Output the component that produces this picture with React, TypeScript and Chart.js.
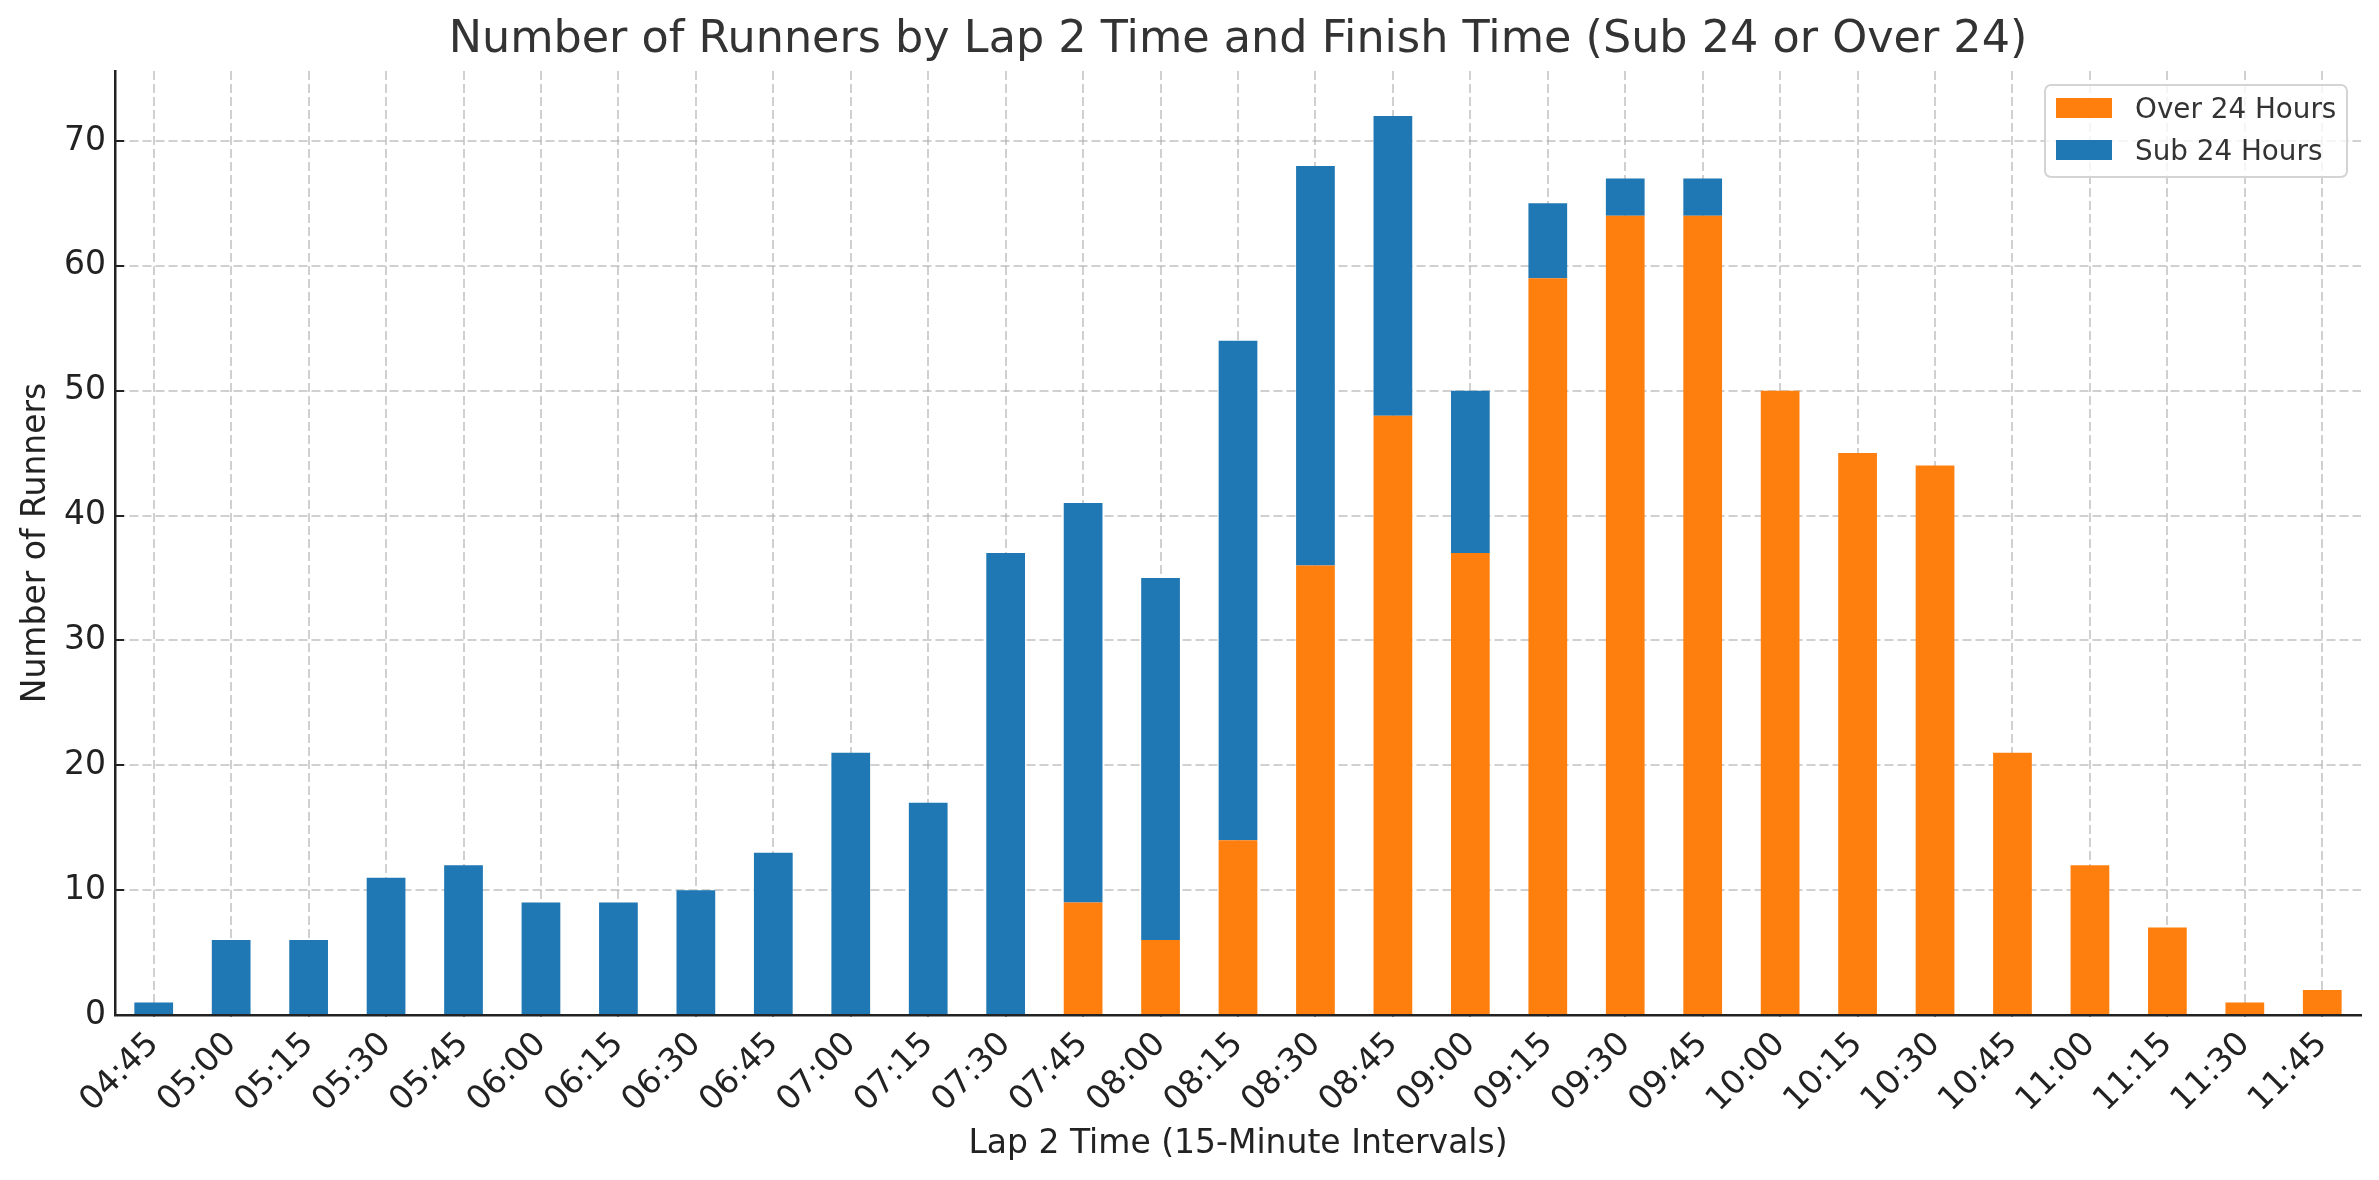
import React, { useEffect, useRef } from "react";
import { Chart, registerables } from "chart.js";

Chart.register(...registerables);

const lapTimes = [
  "04:45", "05:00", "05:15", "05:30", "05:45", "06:00", "06:15", "06:30", "06:45",
  "07:00", "07:15", "07:30", "07:45", "08:00", "08:15", "08:30", "08:45", "09:00",
  "09:15", "09:30", "09:45", "10:00", "10:15", "10:30", "10:45", "11:00", "11:15",
  "11:30", "11:45",
];

const over24Hours = [
  0, 0, 0, 0, 0, 0, 0, 0, 0, 0, 0, 0,
  9, 6, 14, 36, 48, 37, 59, 64, 64,
  50, 45, 44, 21, 12, 7, 1, 2,
];

const sub24Hours = [
  1, 6, 6, 11, 12, 9, 9, 10, 13, 21, 17, 37,
  32, 29, 40, 32, 24, 13, 6, 3, 3,
  0, 0, 0, 0, 0, 0, 0, 0,
];

const seriesLabels = ["Over 24 Hours", "Sub 24 Hours"];
const seriesColors = ["#ff7f0e", "#1f77b4"];
const chartTitle = "Number of Runners by Lap 2 Time and Finish Time (Sub 24 or Over 24)";
const xTitle = "Lap 2 Time (15-Minute Intervals)";
const yTitle = "Number of Runners";
const yTickStep = 10;
const yMax = 75.6;

const FONT = "'DejaVu Sans', 'Liberation Sans', sans-serif";
const GRID = "rgba(176,176,176,0.6)";

const titlePlugin = {
  id: "axesTitle",
  afterDraw(chart: any) {
    const { ctx, chartArea } = chart;
    ctx.save();
    ctx.fillStyle = "#333";
    ctx.font = `44.5px ${FONT}`;
    ctx.textAlign = "center";
    ctx.textBaseline = "middle";
    ctx.fillText(chartTitle, (chartArea.left + chartArea.right) / 2, 40);
    ctx.restore();
  },
};

const legendPlugin = {
  id: "boxLegend",
  afterDraw(chart: any) {
    const { ctx, chartArea } = chart;
    const w = 302;
    const h = 92;
    const x = chartArea.right - 14 - w;
    const y = chartArea.top + 14;
    ctx.save();
    ctx.beginPath();
    ctx.roundRect(x, y, w, h, 6);
    ctx.fillStyle = "rgba(255,255,255,0.8)";
    ctx.fill();
    ctx.strokeStyle = "#d4d4d4";
    ctx.lineWidth = 2;
    ctx.stroke();
    chart.data.datasets.forEach((ds: any, i: number) => {
      const ry = y + 23 + i * 42;
      ctx.fillStyle = ds.backgroundColor;
      ctx.fillRect(x + 11, ry - 10, 56, 20);
      ctx.fillStyle = "#333";
      ctx.font = `27.8px ${FONT}`;
      ctx.textBaseline = "middle";
      ctx.textAlign = "left";
      ctx.fillText(ds.label, x + 90, ry + 3);
    });
    ctx.restore();
  },
};

export default function App() {
  const canvasRef = useRef<HTMLCanvasElement | null>(null);

  useEffect(() => {
    document.body.style.margin = "0";
    const canvas = canvasRef.current;
    if (!canvas) return;
    const chart = new Chart(canvas, {
      type: "bar",
      data: {
        labels: lapTimes,
        datasets: [
          {
            label: seriesLabels[0],
            data: over24Hours,
            backgroundColor: seriesColors[0],
            borderWidth: 0,
            barPercentage: 1,
            categoryPercentage: 0.5,
          },
          {
            label: seriesLabels[1],
            data: sub24Hours,
            backgroundColor: seriesColors[1],
            borderWidth: 0,
            barPercentage: 1,
            categoryPercentage: 0.5,
          },
        ],
      },
      options: {
        animation: false,
        responsive: false,
        maintainAspectRatio: false,
        layout: { padding: { top: 71, right: 18, bottom: 0, left: 0 } },
        plugins: {
          legend: { display: false },
          tooltip: { enabled: false },
          title: { display: false },
        },
        scales: {
          x: {
            stacked: true,
            offset: true,
            z: 1,
            afterFit: (scale: any) => {
              scale.height = 165;
            },
            grid: {
              display: true,
              offset: false,
              color: GRID,
              lineWidth: 2,
              drawTicks: true,
              tickLength: -9,
              tickColor: "#222",
              tickWidth: 2,
            },
            border: { display: true, color: "#222", width: 2.5, dash: [9, 4] },
            ticks: {
              color: "#222",
              font: { family: FONT, size: 33 },
              maxRotation: 45,
              minRotation: 45,
              autoSkip: false,
              padding: 19,
            },
            title: {
              display: true,
              text: xTitle,
              color: "#222",
              font: { family: FONT, size: 33 },
              padding: { top: 0, bottom: 16 },
            },
          },
          y: {
            stacked: true,
            min: 0,
            max: yMax,
            z: 1,
            afterFit: (scale: any) => {
              scale.width = 115;
            },
            grid: {
              display: true,
              color: (c: any) => (c.tick && c.tick.value === 0 ? "rgba(0,0,0,0)" : GRID),
              lineWidth: 2,
              drawTicks: true,
              tickLength: -9,
              tickColor: "#222",
              tickWidth: 2,
            },
            border: { display: true, color: "#222", width: 2.5, dash: [9, 4] },
            ticks: {
              stepSize: yTickStep,
              includeBounds: false,
              color: "#222",
              font: { family: FONT, size: 33 },
              padding: 18,
            },
            title: {
              display: true,
              text: yTitle,
              color: "#222",
              font: { family: FONT, size: 33 },
              padding: { top: 17, bottom: 0 },
            },
          },
        },
      },
      plugins: [titlePlugin, legendPlugin],
    } as any);
    return () => chart.destroy();
  }, []);

  return (
    <div style={{ width: 2379, height: 1180 }}>
      <canvas ref={canvasRef} width={2379} height={1180} style={{ width: 2379, height: 1180, display: "block" }} />
    </div>
  );
}
